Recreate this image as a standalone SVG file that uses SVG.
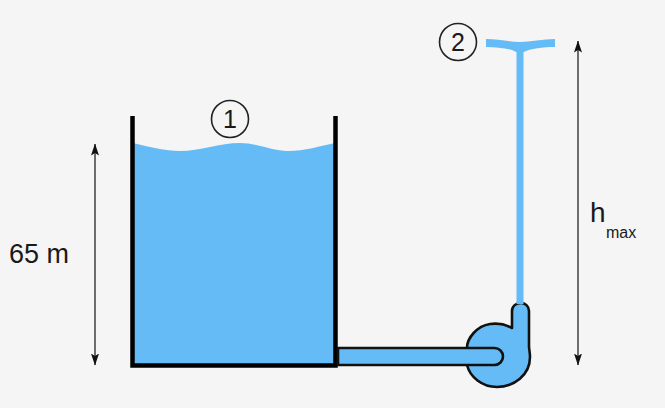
<svg xmlns="http://www.w3.org/2000/svg" width="665" height="408" viewBox="0 0 665 408">
<style>
text{font-family:"Liberation Sans",Arial,sans-serif;fill:#1a1a1a}
.w{fill:#65bbf6}
.o{stroke:#111;stroke-width:2.600;stroke-linejoin:round}
.c{fill:none;stroke:#222;stroke-width:1.600}
.d{fill:none;stroke:#333;stroke-width:1.400;marker-start:url(#a);marker-end:url(#a)}
</style>
<defs><marker id="a" viewBox="0 0 12 10" refX="11.500" refY="5" markerWidth="12" markerHeight="10" markerUnits="userSpaceOnUse" orient="auto-start-reverse"><path d="M0 1 L12 5 L0 9 L2.500 5Z" fill="#111"/></marker></defs>
<rect width="665" height="408" fill="#f5f5f5"/>
<g id="tank">
<path class="w" d="M133 143 C150 147 165 151 180 151 C200 151 220 143 240 143 C258 143 272 151 288 151 C305 151 320 146 335 143 L335 365 L133 365Z"/>
<path d="M132.500 116 V365.500 H335.500 V116" fill="none" stroke="#000" stroke-width="4.500"/>
</g>
<g id="pump">
<path class="w o" d="M512 328 C505 324 497 323 490 324 C477 326 467 338 467 348 V365 C470 377 482 387 497 387 C514 387 530 375 530 357 C530 352 529 350 529 346 V311 C529 306 525 303 521 303 C516 303 512 306 512 311Z"/>
</g>
<g id="pipe">
<path class="w o" d="M338 348 H494.500 A8.500 8.500 0 0 1 494.500 365 H338Z" stroke-width="2"/>
</g>
<g id="riser">
<path class="w" d="M516.500 45 H523.500 V304 H516.500Z"/>
<path class="w" d="M486 39 C498 39 510 42 520 42 C530 42 543 39 555 39 V47 C543 47 530 48.500 524 52 H516 C510 48.500 498 47 486 47Z"/>
</g>
<g id="label-1">
<circle class="c" cx="230" cy="119" r="18.500"/>
<text x="230" y="128" font-size="25" text-anchor="middle">1</text>
</g>
<g id="label-2">
<circle class="c" cx="458" cy="42" r="18.500"/>
<text x="458" y="51" font-size="25" text-anchor="middle">2</text>
</g>
<g id="connectors">
<path class="d" d="M95 144 V365"/>
<path class="d" d="M578 41 V365"/>
</g>
<g id="label-65m"><text x="9" y="263" font-size="27">65 m</text></g>
<g id="label-hmax">
<text x="590" y="222" font-size="28">h</text>
<text x="606" y="238" font-size="16">max</text>
</g>
</svg>
